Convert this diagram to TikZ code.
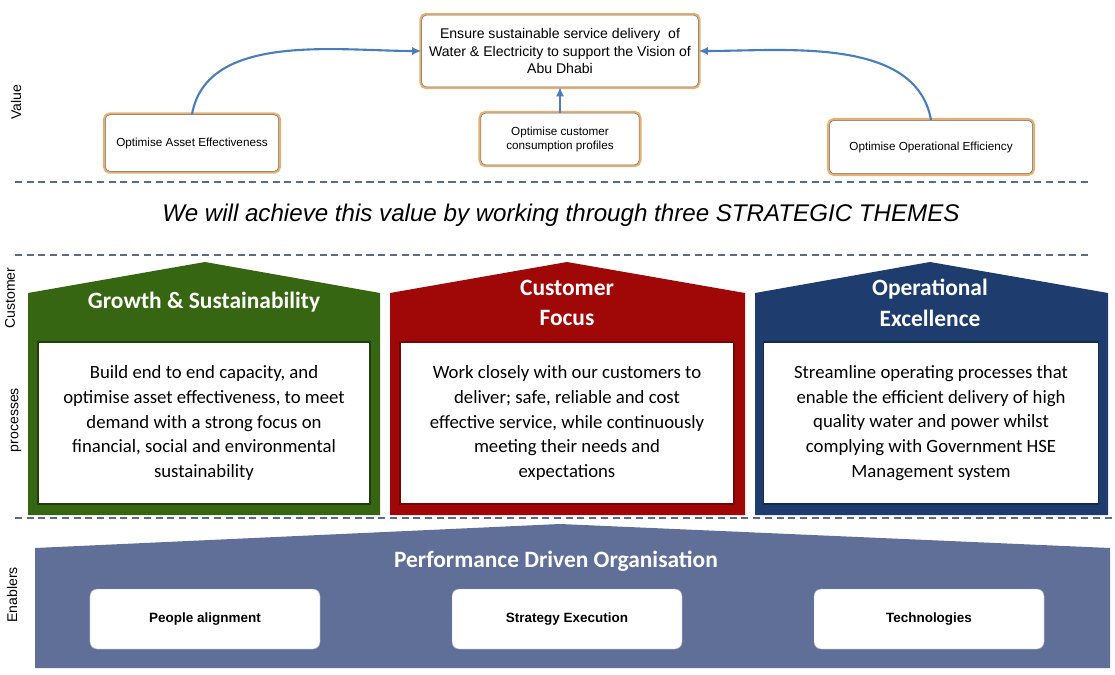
\documentclass[tikz,border=0pt]{standalone}
\usepackage{fontspec}
\setmainfont{Liberation Sans}
\newfontfamily\carlitofont{Carlito}
\usetikzlibrary{positioning,arrows.meta}
\definecolor{valblue}{HTML}{4A7EBB}
\definecolor{dashgrey}{HTML}{5A6B8C}
\definecolor{growgreen}{HTML}{376612}
\definecolor{custred}{HTML}{A00808}
\definecolor{opblue}{HTML}{1E3D6E}
\definecolor{enblue}{HTML}{5F6F98}
\definecolor{glow}{HTML}{E8B070}
\tikzset{
  glowbox/.style={draw=black!60,fill=white,rounded corners=4pt,align=center,
    preaction={draw=glow,line width=4pt,rounded corners=4pt}},
  sepline/.style={dashgrey,dashed,line width=1.2pt,dash pattern=on 6pt off 4pt},
  sidelabel/.style={rotate=90,font=\fontsize{12}{14}\selectfont},
  housetitle/.style={white,font=\carlitofont\bfseries\fontsize{20}{26}\selectfont,align=center},
  housetext/.style={font=\carlitofont\fontsize{16}{21}\selectfont,align=center},
  enbox/.style={draw=enblue!60,fill=white,rounded corners=6pt,minimum width=6.9cm,minimum height=1.8cm,
    font=\bfseries\fontsize{11.5}{13}\selectfont},
  valarrow/.style={-{Latex[length=8pt,width=7pt]},valblue,line width=1.8pt}
}
\begin{document}
\begin{tikzpicture}[x=0.03cm,y=-0.03cm]
	\useasboundingbox (0,0) rectangle (1115,675);
	%value--------------------------------------
	\node[glowbox,minimum width=8.3cm,minimum height=2.15cm,font=\fontsize{12}{15}\selectfont] (vision) at (560,51)
		{Ensure sustainable service delivery \ of\\Water \& Electricity to support the Vision of\\Abu Dhabi};
	\node[glowbox,minimum width=5.2cm,minimum height=1.7cm,font=\fontsize{10}{12}\selectfont] (asset) at (192,143) {Optimise Asset Effectiveness};
	\node[glowbox,minimum width=4.75cm,minimum height=1.55cm,font=\fontsize{10}{12}\selectfont] (consump) at (560,139) {Optimise customer\\consumption profiles};
	\node[glowbox,minimum width=6.1cm,minimum height=1.6cm,font=\fontsize{10}{12}\selectfont] (opeff) at (931,147) {Optimise Operational Efficiency};
	\draw[valarrow] (asset.north) to[out=80,in=180,looseness=0.9] (vision.west);
	\draw[valarrow] (opeff.north) to[out=100,in=0,looseness=0.9] (vision.east);
	\draw[valarrow] (consump.north) -- (vision.south);
	\node[sidelabel] (lvalue) at (16,102) {Value};
	%themes line---------------------------------
	\draw[sepline] (15,182) -- (1090,182);
	\node[font=\itshape\fontsize{20.6}{24}\selectfont] (themes) at (561,215) {We will achieve this value by working through three STRATEGIC THEMES};
	\draw[sepline] (15,255) -- (1090,255);
	\node[sidelabel] (lcust) at (10,298) {Customer};
	\node[sidelabel] (lproc) at (16,420) {processes};
	%houses--------------------------------------
	\fill[growgreen] (28,515) -- (28,293) -- (205,262) -- (380,293) -- (380,515) -- cycle;
	\fill[custred] (390,515) -- (390,293) -- (567,262) -- (745,293) -- (745,515) -- cycle;
	\fill[opblue] (755,515) -- (755,293) -- (930,262) -- (1108,293) -- (1108,515) -- cycle;
	\node[housetitle] (growt) at (204,302) {Growth \& Sustainability};
	\node[housetitle] (custt) at (567,303) {Customer\\Focus};
	\node[housetitle] (opt) at (930,303) {Operational\\Excellence};
	\node[draw=growgreen!60!black,line width=1.5pt,fill=white,minimum width=9.95cm,minimum height=4.85cm] (growb) at (204,423) {};
	\node[draw=custred!70!black,line width=1.5pt,fill=white,minimum width=10cm,minimum height=4.85cm] (custb) at (567,423) {};
	\node[draw=opblue!70!black,line width=1.5pt,fill=white,minimum width=10.05cm,minimum height=4.85cm] (opb) at (931,423) {};
	\node[housetext] at (growb) {Build end to end capacity, and\\optimise asset effectiveness, to meet\\demand with a strong focus on\\financial, social and environmental\\sustainability};
	\node[housetext] at (custb) {Work closely with our customers to\\deliver; safe, reliable and cost\\effective service, while continuously\\meeting their needs and\\expectations};
	\node[housetext] at (opb) {Streamline operating processes that\\enable the efficient delivery of high\\quality water and power whilst\\complying with Government HSE\\Management system};
	%enablers------------------------------------
	\draw[sepline] (15,518) -- (1115,518);
	\fill[enblue] (35,668) -- (35,548) -- (560,524) -- (1110,548) -- (1110,668) -- cycle;
	\node[housetitle] (perf) at (556,561) {Performance Driven Organisation};
	\node[enbox] (people) at (205,619) {People alignment};
	\node[enbox] (strat) at (567,619) {Strategy Execution};
	\node[enbox] (tech) at (929,619) {Technologies};
	\node[sidelabel] (lenab) at (12,595) {Enablers};
\end{tikzpicture}
\end{document}
